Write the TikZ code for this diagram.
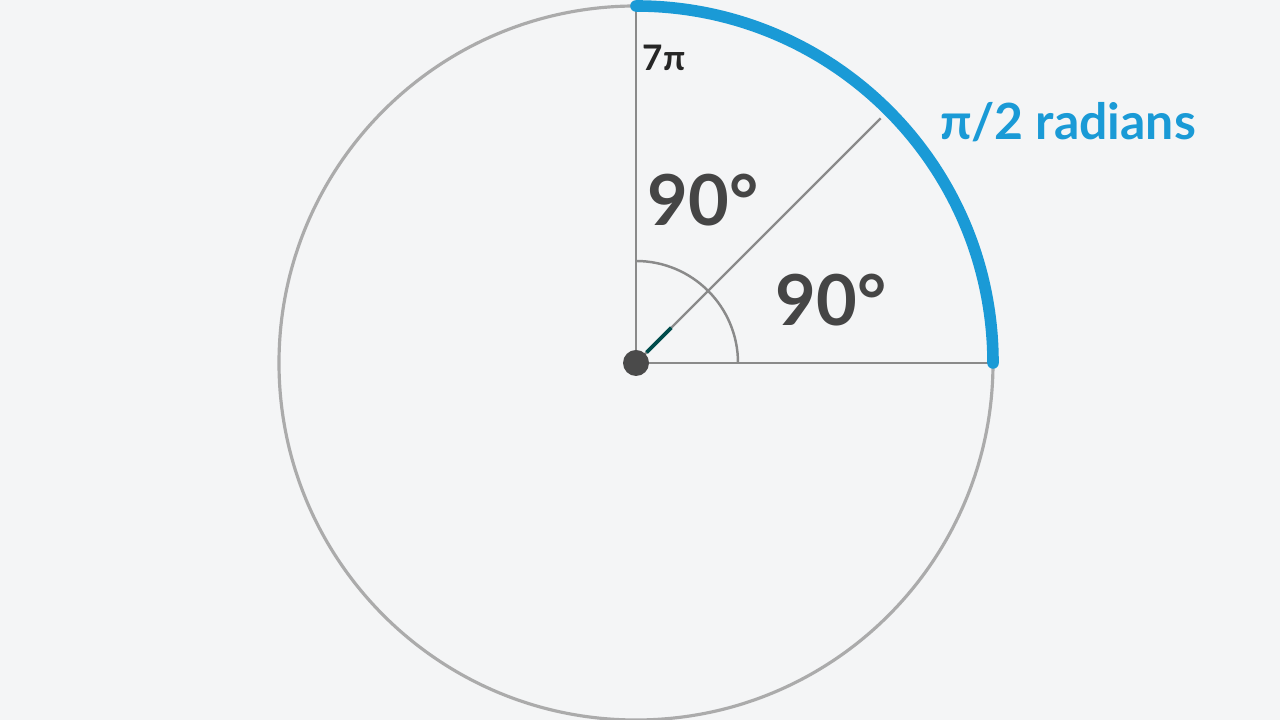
\documentclass[tikz,border=0pt]{standalone}
\usepackage{fontspec}
\setmainfont{Lato}
\usepackage{xcolor}
\definecolor{bgcol}{HTML}{F4F5F6}
\definecolor{ringcol}{HTML}{ABABAB}
\definecolor{linecol}{HTML}{8A8A8A}
\definecolor{arccol}{HTML}{1A9AD6}
\definecolor{textcol}{HTML}{454545}
\definecolor{dotcol}{HTML}{4A4A4A}
\tikzset{
  radius line/.style={draw=linecol, line width=0.7pt},
  deg label/.style={text=textcol, font=\fontsize{20}{20}\selectfont\bfseries},
}
\begin{document}
\begin{tikzpicture}
        \fill[bgcol] (-6.36,-3.57) rectangle (6.44,3.63);
        \useasboundingbox (-6.36,-3.57) rectangle (6.44,3.63);
        \coordinate(o) at (0,0);
        \coordinate(top) at (90:3.57);
        \coordinate(right) at (0:3.57);
        \coordinate(mid) at (45:3.46);
        \draw[ringcol, line width=0.9pt] (o) circle (3.57);
        \draw[radius line](o)--(top);
        \draw[radius line](o)--(right);
        \draw[radius line](o)--(mid);
        \draw[radius line] (1.02,0) arc (0:90:1.02);
        \draw[arccol, line width=3.3pt, line cap=round] (top) arc (90:0:3.57);
        \draw[teal!60!black, line width=1.1pt] (45:0.15)--(45:0.5);
        \node(dot)[circle, fill=dotcol, inner sep=0pt, minimum size=0.26cm] at (o) {};
        \node(seven)[text=black!85, font=\fontsize{10}{10}\selectfont\bfseries] at (0.28,3.05) {7π};
        \node(up)[deg label] at (0.67,1.63) {90°};
        \node(side)[deg label] at (1.95,0.63) {90°};
        \node(rad)[text=arccol, font=\fontsize{14.2}{14.2}\selectfont\bfseries] at (4.32,2.41) {π/2 radians};
        \end{tikzpicture}
\end{document}
